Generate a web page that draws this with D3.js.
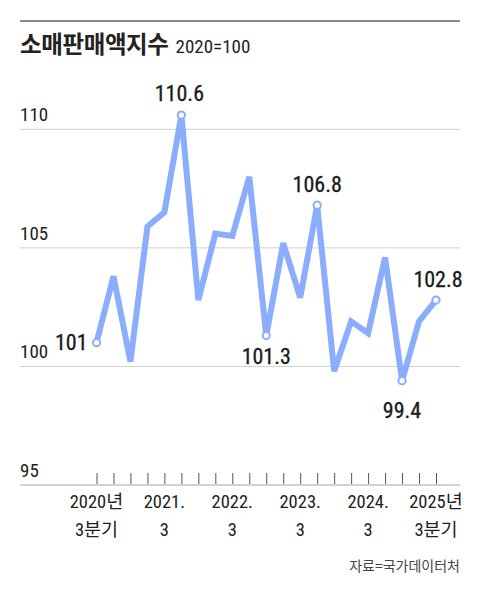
<!DOCTYPE html>
<html>
<head>
<meta charset="utf-8">
<script src="https://cdn.jsdelivr.net/npm/d3@7"></script>
<style>
  body { margin: 0; background: #fff; }
  svg { display: block; }
  text { font-family: 'Liberation Sans Narrow', 'Roboto Condensed', Roboto, 'Noto Sans CJK KR', sans-serif; }
</style>
</head>
<body>
<svg id="chart"></svg>
<script>
// quarterly index, 2020 Q3 .. 2025 Q3
const quarters = d3.range(21)
const values = [101.0, 103.8, 100.2, 105.9, 106.5, 110.6, 102.8, 105.6, 105.5, 108.0,
  101.3, 105.2, 102.9, 106.8, 99.8, 101.9, 101.4, 104.6, 99.4, 101.9, 102.8]

const yTicks = [95, 100, 105, 110]
const xLabelIdx = [0, 4, 8, 12, 16, 20]
const xLabelTop = ['2020년', '2021.', '2022.', '2023.', '2024.', '2025년']
const xLabelBottom = ['3분기', '3', '3', '3', '3', '3분기']

// which points get a marker + value label
const marked = [0, 5, 10, 13, 18, 20]
const markedText = ['101', '110.6', '101.3', '106.8', '99.4', '102.8']

const width = 480
const height = 590
const left = 20
const right = 460

const svg = d3.select('#chart').attr('width', width).attr('height', height)

const x = d3.scaleLinear().domain([0, 20]).range([96.5, 436])
const y = d3.scaleLinear().domain([95, 110]).range([485, 129.3])

// top rule
svg.append('line')
  .attr('x1', left).attr('x2', right)
  .attr('y1', 21).attr('y2', 21)
  .attr('stroke', '#8a8a8a').attr('stroke-width', 2)

// title
const title = svg.append('text')
  .attr('x', left).attr('y', 53)
title.append('tspan')
  .style('font-family', "'Noto Sans CJK KR', sans-serif")
  .attr('font-size', 23.5).attr('font-weight', 'bold')
  .attr('letter-spacing', -0.4)
  .attr('fill', '#222')
  .text('소매판매액지수')
title.append('tspan')
  .attr('dx', 7)
  .attr('font-size', 19).attr('fill', '#222')
  .text('2020=100')

// gridlines
const grid = svg.append('g')
grid.selectAll('line')
  .data(yTicks)
  .join('line')
  .attr('x1', left).attr('x2', right)
  .attr('y1', (d) => y(d)).attr('y2', (d) => y(d))
  .attr('stroke', (d) => (d === 95 ? '#c4c4c4' : '#d0d0d0'))
  .attr('stroke-width', (d) => (d === 95 ? 1.5 : 1))

grid.selectAll('text')
  .data(yTicks)
  .join('text')
  .attr('x', left)
  .attr('y', (d) => y(d) - 8)
  .attr('font-size', 19)
  .attr('fill', '#222')
  .text((d) => d)

// x ticks
const xAxis = d3.axisBottom(x).tickValues(quarters).tickSize(11).tickFormat('')
const axisG = svg.append('g').attr('transform', 'translate(0,473)').call(xAxis)
axisG.select('.domain').remove()
axisG.selectAll('.tick line').attr('stroke', '#555').attr('stroke-width', 1)

// x labels (two lines)
const xl = svg.append('g')
xl.selectAll('text.top')
  .data(xLabelIdx)
  .join('text')
  .attr('class', 'top')
  .attr('x', (d) => x(d))
  .attr('y', 508)
  .attr('text-anchor', 'middle')
  .attr('font-size', 18.5)
  .attr('fill', '#222')
  .text((d, i) => xLabelTop[i])
xl.selectAll('text.bot')
  .data(xLabelIdx)
  .join('text')
  .attr('class', 'bot')
  .attr('x', (d) => x(d))
  .attr('y', 536)
  .attr('text-anchor', 'middle')
  .attr('font-size', 18.5)
  .attr('fill', '#222')
  .text((d, i) => xLabelBottom[i])

// the line
const line = d3.line()
  .x((d, i) => x(i))
  .y((d) => y(d))

svg.append('path')
  .datum(values)
  .attr('d', line)
  .attr('fill', 'none')
  .attr('stroke', '#8badfd')
  .attr('stroke-width', 6)
  .attr('stroke-linejoin', 'miter')
  .attr('stroke-miterlimit', 4)

// markers
svg.append('g')
  .selectAll('circle')
  .data(marked)
  .join('circle')
  .attr('cx', (d) => x(d))
  .attr('cy', (d) => y(values[d]))
  .attr('r', 3.6)
  .attr('fill', '#fff')
  .attr('stroke', '#8badfd')
  .attr('stroke-width', 2)

// label placement (dx, dy, anchor) per marked point
const labelPos = [
  [-9, 7, 'end'],
  [-2, -14, 'middle'],
  [0, 28, 'middle'],
  [0, -13, 'middle'],
  [0, 37, 'middle'],
  [2, -13, 'middle'],
]

svg.append('g')
  .selectAll('text')
  .data(marked)
  .join('text')
  .attr('x', (d, i) => x(d) + labelPos[i][0])
  .attr('y', (d, i) => y(values[d]) + labelPos[i][1])
  .attr('text-anchor', (d, i) => labelPos[i][2])
  .attr('font-size', 22)
  .attr('fill', '#1a1a1a')
  .attr('stroke', '#1a1a1a')
  .attr('stroke-width', 0.3)
  .text((d, i) => markedText[i])

// source
svg.append('text')
  .attr('x', right)
  .attr('y', 571)
  .attr('text-anchor', 'end')
  .style('font-family', "'Noto Sans CJK KR', sans-serif")
  .attr('font-size', 14)
  .attr('fill', '#444')
  .text('자료=국가데이터처')
</script>
</body>
</html>
